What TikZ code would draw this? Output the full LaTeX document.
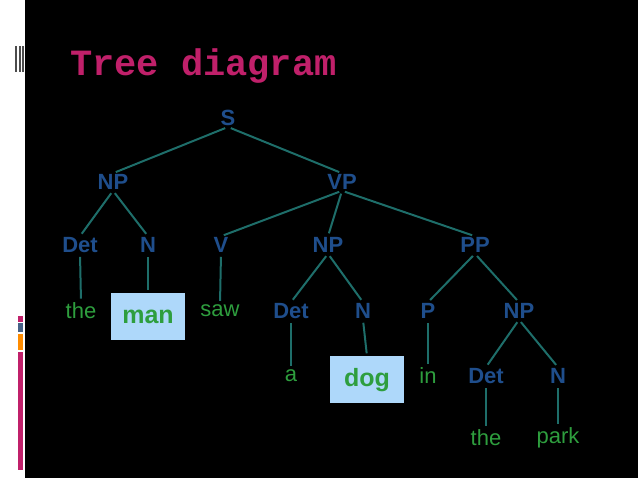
\documentclass[tikz,border=0pt]{standalone}
\usepackage{fontspec}
\setmainfont{Liberation Sans}
\newfontfamily\titlefont{Liberation Mono}
\definecolor{lab}{HTML}{1F4E8C}
\definecolor{wrd}{HTML}{2E9E3E}
\definecolor{edg}{HTML}{1E6E6A}
\definecolor{ttl}{HTML}{C0206A}
\definecolor{hl}{HTML}{AED8FA}
\begin{document}
\begin{tikzpicture}[x=1pt,y=-1pt,
  cat/.style={text=lab,font=\fontsize{22}{24}\selectfont\bfseries,inner sep=1pt},
  wd/.style={text=wrd,font=\fontsize{22}{24}\selectfont,inner sep=1pt},
  hw/.style={text=wrd,fill=hl,font=\fontsize{25}{27}\selectfont\bfseries,minimum width=74pt,minimum height=47pt,inner sep=0pt},
  br/.style={draw=edg,line width=2pt,shorten >=3pt,shorten <=3pt}]
\fill[white] (0,0) rectangle (638,478);
\fill[black] (25,0) rectangle (638,478);
\fill[black!70] (15,46) rectangle (17,72);
\fill[black!70] (19,46) rectangle (21,72);
\fill[black!70] (22,46) rectangle (24,72);
\fill[ttl] (18,316) rectangle (23,322);
\fill[lab!60!gray] (18,323) rectangle (23,332);
\fill[orange!90!yellow] (18,334) rectangle (23,350);
\fill[ttl] (18,352) rectangle (23,470);
\node[anchor=west,text=ttl,font=\titlefont\fontsize{37}{40}\selectfont\bfseries,inner sep=0pt] (title) at (70,66) {Tree diagram};
\node[cat] (s) at (228,118) {S};
\node[cat] (np1) at (113,182) {NP};
\node[cat] (vp) at (342,182) {VP};
\node[cat] (det1) at (80,245) {Det};
\node[cat] (n1) at (148,245) {N};
\node[cat] (v) at (221,245) {V};
\node[cat] (np2) at (328,245) {NP};
\node[cat] (pp) at (475,245) {PP};
\node[wd] (the1) at (81,311) {the};
\node[hw] (man) at (148,317) {man};
\node[wd] (saw) at (220,311) {saw};
\node[cat] (det2) at (291,311) {Det};
\node[cat] (n2) at (363,311) {N};
\node[cat] (p) at (428,311) {P};
\node[cat] (np3) at (519,311) {NP};
\node[wd] (a) at (291,376) {a};
\node[hw] (dog) at (367,380) {dog};
\node[wd] (in) at (428,376) {in};
\node[cat] (det3) at (486,376) {Det};
\node[cat] (n3) at (558,376) {N};
\node[wd] (the2) at (486,438) {the};
\node[wd] (park) at (558,438) {park};
\foreach \a/\b in {s/np1,s/vp,np1/det1,np1/n1,vp/v,vp/np2,vp/pp,det1/the1,np2/det2,np2/n2,pp/p,pp/np3,v/saw,det2/a,p/in,np3/det3,np3/n3,det3/the2,n3/park}
  \draw[br] (\a.south) -- (\b.north);
\draw[br] (n1.south) -- (man.north);
\draw[br] (n2.south) -- (dog.north);
\end{tikzpicture}
\end{document}
